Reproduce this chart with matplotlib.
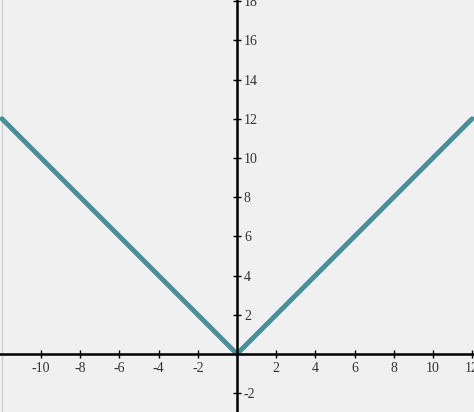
import matplotlib
matplotlib.use("Agg")
import matplotlib.pyplot as plt
import numpy as np

xs = [-12, 0, 12]
ys = [12, 0, 12]
xticks = [-10, -8, -6, -4, -2, 2, 4, 6, 8, 10, 12]
yticks = [-2, 2, 4, 6, 8, 10, 12, 14, 16, 18]

fig = plt.figure(figsize=(4.74, 4.12), dpi=100)
ax = fig.add_axes([0, 0, 1, 1])
ax.set_facecolor("#f0f0f0")
ax.set_xlim(-12.1, 12.1)
ax.set_ylim(-2.96, 18.06)
ax.set_xticks(np.arange(-12, 13, 2), minor=True)
ax.set_yticks(np.arange(-2, 19, 2), minor=True)
ax.grid(which="minor", color="#cfcfcf", lw=0.9)
ax.set_axisbelow(True)
for s in ["top", "right"]:
    ax.spines[s].set_visible(False)
ax.spines["left"].set_position(("data", 0))
ax.spines["bottom"].set_position(("data", 0))
for s in ["left", "bottom"]:
    ax.spines[s].set_linewidth(1.8)
ax.set_xticks(xticks)
ax.set_yticks(yticks)
ax.set_xticklabels([str(t) for t in xticks], family="Liberation Serif", fontsize=10, color="#333333")
ax.set_yticklabels([str(t) for t in yticks], family="Liberation Serif", fontsize=10, color="#333333")
ax.tick_params(axis="both", which="major", direction="inout", length=6, width=1)
ax.tick_params(axis="y", pad=-8)
ax.tick_params(axis="x", pad=3)
for lab in ax.get_yticklabels():
    lab.set_horizontalalignment("left")
for lab in ax.get_xticklabels():
    lab.set_horizontalalignment("center")
ax.tick_params(which="minor", length=0)
ax.plot(xs, ys, color="#4a8e9a", lw=3.5, solid_capstyle="round")
fig.savefig("out.png", dpi=100)
